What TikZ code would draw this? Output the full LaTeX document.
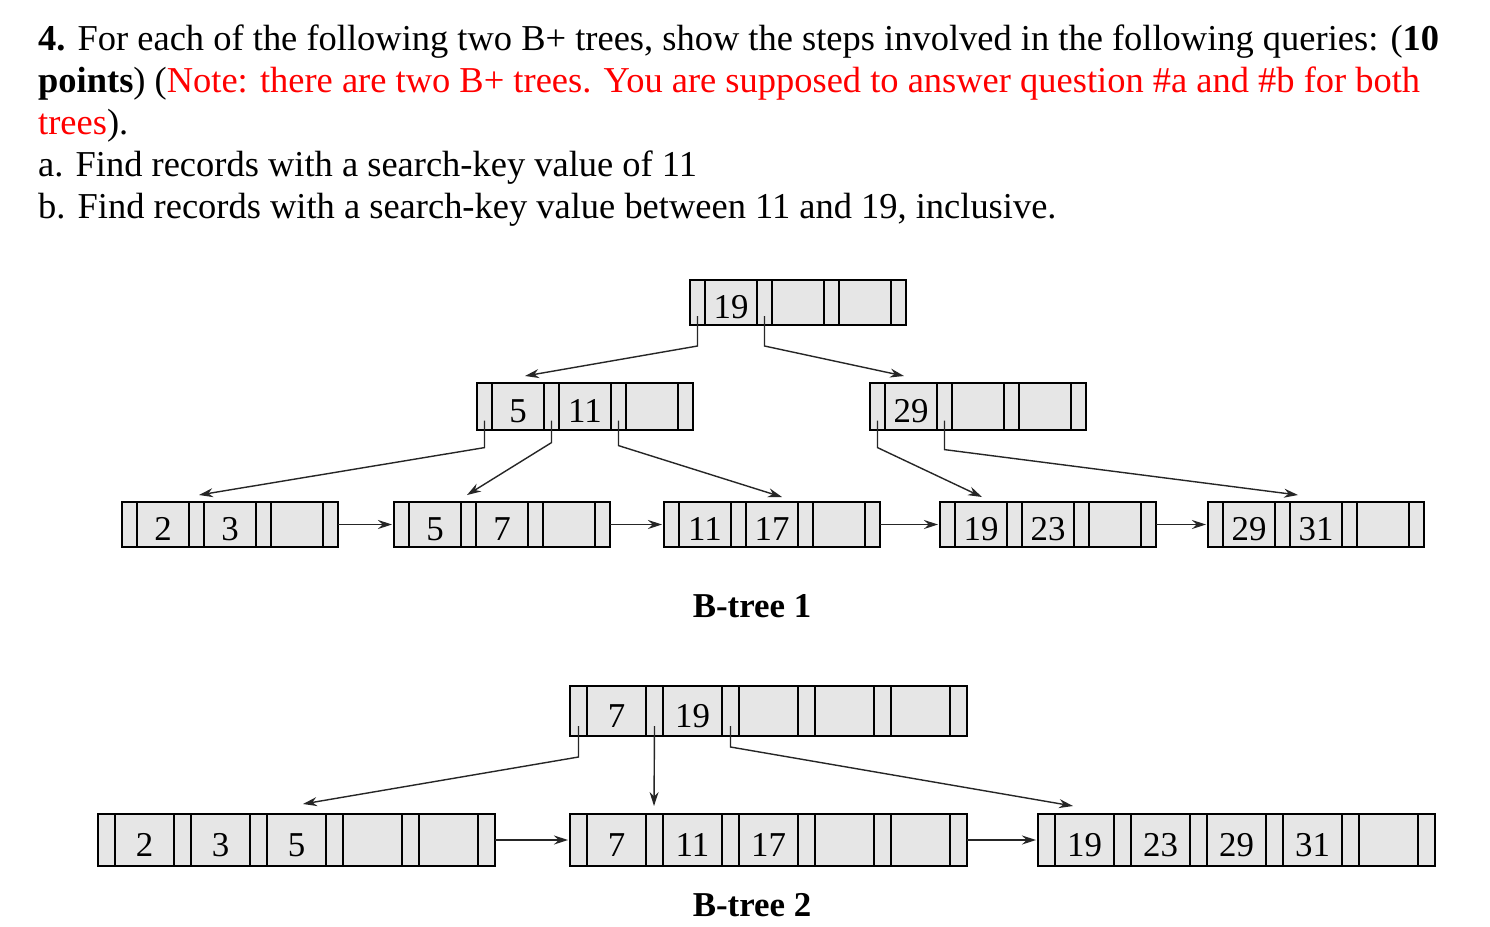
\documentclass[tikz,border=0pt]{standalone}
\usepackage{fontspec}
\setmainfont{Liberation Serif}
\usetikzlibrary{arrows.meta}
\definecolor{cellgray}{HTML}{E6E6E6}
\definecolor{qred}{HTML}{FF0000}
\tikzset{
  cell/.style={draw=black,line width=1.6bp,fill=cellgray},
  sep/.style={draw=black,line width=1.6bp},
  keytxt/.style={font=\fontsize{35}{35}\selectfont,inner sep=0,anchor=base},
  arr/.style={draw=black!85,line width=1.4bp,-{Stealth[length=14bp,width=9bp]}},
  head/.style={font=\fontsize{36.6}{42}\selectfont,anchor=base west,inner sep=0},
  captxt/.style={font=\fontsize{35}{40}\selectfont\bfseries,anchor=base,inner sep=0}
}
% #1 name, #2 x, #3 y, #4 ptr width, #5 key width, #6 height, #7 nkeys, #8 keys
\newcommand\BNode[8]{%
  \draw[cell] (#2,#3) rectangle ++({#7*#5+(#7+1)*#4},#6);
  \foreach \k [count=\i from 0] in {#8}{%
    \pgfmathsetmacro\xa{#2+(\i+1)*#4+\i*#5}
    \draw[sep] (\xa,#3) -- ++(0,#6);
    \draw[sep] (\xa+#5,#3) -- ++(0,#6);
    \node[keytxt] at (\xa+#5/2,#3+#6/2+16) {\k};
  }
  \foreach \i in {0,...,#7}{%
    \coordinate (#1-p\i) at ({#2+\i*(#4+#5)+#4/2},{#3+#6*0.8});
  }
  \coordinate (#1-w) at (#2,{#3+#6/2});
  \coordinate (#1-e) at ({#2+#7*#5+(#7+1)*#4},{#3+#6/2});
}
\begin{document}
\begin{tikzpicture}[x=1bp,y=-1bp]
\useasboundingbox (0,0) rectangle (1490,926);
\fill[white] (0,0) rectangle (1490,926);
% header
\node[head] (h1) at (38,50) {\textbf{4.} For each of the following two B+ trees, show the steps involved in the following queries: (\textbf{10}};
\node[head] (h2) at (38,92) {\textbf{points}) (\textcolor{qred}{Note: there are two B+ trees. You are supposed to answer question \#a and \#b for both}};
\node[head] (h3) at (38,134) {\textcolor{qred}{trees}).};
\node[head] (h4) at (38,176) {a. Find records with a search-key value of 11};
\node[head] (h5) at (38,218) {b. Find records with a search-key value between 11 and 19, inclusive.};
% tree 1
\BNode{r1}{690}{280}{15}{52}{45}{3}{19,,}
\BNode{i1}{477}{383}{15}{52}{47}{3}{5,11,}
\BNode{i2}{870}{383}{15}{52}{47}{3}{29,,}
\BNode{l1}{122}{502}{15}{52}{45}{3}{2,3,}
\BNode{l2}{394}{502}{15}{52}{45}{3}{5,7,}
\BNode{l3}{664}{502}{15}{52}{45}{3}{11,17,}
\BNode{l4}{940}{502}{15}{52}{45}{3}{19,23,}
\BNode{l5}{1208}{502}{15}{52}{45}{3}{29,31,}
\coordinate (t1a) at (525,376);
\coordinate (t1b) at (904,376);
\coordinate (t1c) at (199,495);
\coordinate (t1d) at (467,495);
\coordinate (t1e) at (782,497);
\coordinate (t1f) at (982,497);
\coordinate (t1g) at (1298,495);
\draw[arr] (r1-p0) -- ++(0,30) -- (t1a);
\draw[arr] (r1-p1) -- ++(0,30) -- (t1b);
\draw[arr] (i1-p0) -- ++(0,27) -- (t1c);
\draw[arr] (i1-p1) -- ++(0,22) -- (t1d);
\draw[arr] (i1-p2) -- ++(0,25) -- (t1e);
\draw[arr] (i2-p0) -- ++(0,27) -- (t1f);
\draw[arr] (i2-p1) -- ++(0,29) -- (t1g);
\draw[arr] (l1-e) -- ([xshift=-2bp]l2-w);
\draw[arr] (l2-e) -- ([xshift=-2bp]l3-w);
\draw[arr] (l3-e) -- ([xshift=-2bp]l4-w);
\draw[arr] (l4-e) -- ([xshift=-2bp]l5-w);
\node[captxt] (c1) at (752,617) {B-tree 1};
% tree 2
\BNode{r2}{570}{686}{17}{59}{50}{5}{7,19,,,}
\BNode{m1}{98}{814}{17}{59}{52}{5}{2,3,5,,}
\BNode{m2}{570}{814}{17}{59}{52}{5}{7,11,17,,}
\BNode{m3}{1038}{814}{17}{59}{52}{5}{19,23,29,31,}
\coordinate (t2a) at (303,804);
\coordinate (t2b) at (654,806);
\coordinate (t2c) at (1073,806);
\draw[arr] (r2-p0) -- ++(0,31) -- (t2a);
\draw[arr] (r2-p1) -- (t2b);
\draw[arr] (r2-p2) -- ++(0,21) -- (t2c);
\draw[arr] (m1-e) -- ([xshift=-2bp]m2-w);
\draw[arr] (m2-e) -- ([xshift=-2bp]m3-w);
\node[captxt] (c2) at (752,916) {B-tree 2};
\end{tikzpicture}
\end{document}
